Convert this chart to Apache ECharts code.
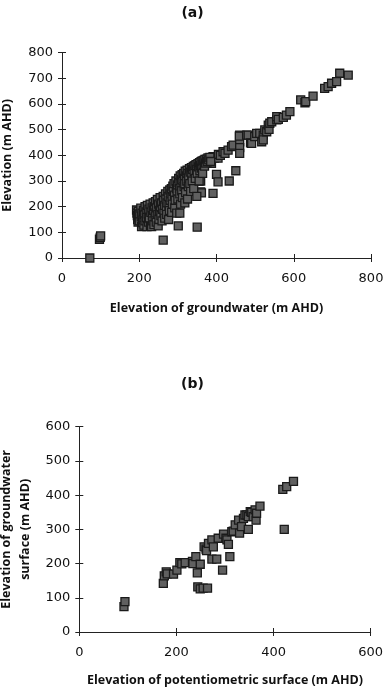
<!DOCTYPE html>
<html><head><meta charset="utf-8">
<script src="https://cdn.jsdelivr.net/npm/echarts@6/dist/echarts.min.js"></script>
<style>html,body{margin:0;padding:0;background:#fff}#c{width:385px;height:687px}</style>
</head><body><div id="c"></div>
<script>
// Panel (a): elevation vs elevation of groundwater (m AHD)
const groundwaterA = [
 72,97,99,100,262,301,350,391,359,361,359,400,404,433,450,
 378,387,391,395,404,405,410,417,422,430,439,443,460,460,460,460,459,478,482,488,491,499,504,512,517,521,521,525,530,534,536,538,543,556,556,560,573,581,590,618,629,631,650,680,689,698,711,719,741,
 193,194,195,196,197,198,199,200,200,
 204,205,206,207,208,210,211,212,213,215,215,
 218,219,220,221,223,224,225,226,228,229,230,
 232,233,234,235,236,237,238,240,241,242,243,244,245,
 247,248,249,250,251,252,254,255,256,258,259,260,
 262,263,264,265,266,268,269,270,271,272,274,275,276,277,278,279,280,
 282,283,284,285,286,287,288,290,291,292,293,295,296,297,298,299,300,
 302,303,304,305,306,307,308,309,310,311,312,313,315,316,317,318,319,320,305,318,
 322,323,324,325,326,327,328,330,331,332,333,335,336,337,338,340,341,342,344,345,
 347,348,349,350,352,353,355,356,357,358,360,361,363,364,365,367,369,370,372,374,376,378,380,383,385
];
const elevationA = [
 0,73,80,86,70,125,120,252,258,254,300,326,297,300,340,
 385,369,395,389,389,404,400,414,408,420,434,440,479,453,430,408,475,479,479,449,447,473,486,486,453,479,460,499,492,518,501,525,531,538,551,540,548,557,570,616,605,609,631,661,668,681,687,720,713,
 187,175,165,150,140,182,158,145,172,
 194,160,122,175,138,150,185,128,168,200,145,
 180,158,122,205,172,140,190,155,210,125,178,
 122,195,165,145,215,185,130,200,160,220,176,140,195,
 228,170,125,210,150,185,235,200,165,215,145,190,
 240,225,175,205,155,250,230,195,170,215,260,240,150,205,185,265,225,
 250,270,178,235,210,280,260,290,245,195,225,300,270,175,255,285,230,
 310,295,270,250,320,210,285,305,262,325,235,300,330,278,310,290,338,255,175,215,
 320,300,342,230,330,278,312,348,290,335,260,352,322,300,345,357,270,338,360,310,
 364,345,240,330,368,355,300,372,340,360,375,350,378,330,365,380,358,384,370,385,375,390,382,392,376
];
// Panel (b): groundwater surface vs potentiometric surface (m AHD)
const potentiometricB = [92,94,173,175,179,181,194,201,207,211,218,233,234,240,243,249,244,249,255,264,257,261,262,266,273,276,273,283,286,295,297,302,304,307,310,314,317,321,328,330,334,338,341,345,348,348,352,355,358,362,364,365,372,419,427,441,422];
const groundwaterB = [74,89,142,164,176,170,169,181,203,199,203,206,200,220,173,198,132,126,128,128,249,242,238,259,269,249,213,213,274,181,286,274,269,256,220,293,295,313,327,289,308,332,342,342,337,300,352,350,337,357,327,347,368,417,425,440,300];
const ticksA = [0,100,200,300,400,500,600,700,800];
const ticksB = [0,100,200,300,400,500,600];
const titleA = '(a)', titleB = '(b)';
const xNameA = 'Elevation of groundwater (m AHD)', yNameA = 'Elevation (m AHD)';
const xNameB = 'Elevation of potentiometric surface (m AHD)', yNameB = 'Elevation of groundwater\nsurface (m AHD)';

const lbl = {color:'#111', fontFamily:'DejaVu Sans', fontSize:13};
const nameStyle = {color:'#111', fontFamily:'Open Sans', fontSize:12.5, fontWeight:'bold', lineHeight:19};
const line = {show:true, onZero:false, lineStyle:{color:'#222', width:1}};
function mainAxis(max, interval, name, gap, grid, labelMargin){
  return {type:'value', gridIndex:grid, min:0, max:max, interval:interval,
    name:name, nameLocation:'middle', nameGap:gap, nameTextStyle:nameStyle,
    axisLine:line, axisTick:{show:true, length:4, lineStyle:{color:'#222'}},
    axisLabel:Object.assign({margin:labelMargin}, lbl), splitLine:{show:false}};
}
function innerAxis(max, interval, grid){
  return {type:'value', gridIndex:grid, min:0, max:max, interval:interval,
    axisLine:{show:false}, axisTick:{show:true, inside:true, length:4, lineStyle:{color:'#222'}},
    axisLabel:{show:false}, splitLine:{show:false}};
}
const sym = {symbol:'rect', symbolSize:8, itemStyle:{color:'#606060', borderColor:'#1a1a1a', borderWidth:1.3, opacity:1}};
const titleStyle = {fontFamily:'DejaVu Sans', fontSize:14, fontWeight:'bold', color:'#111'};
const g = (l, r, t) => ({left:l, right:r, top:t, height:205.3, containLabel:false, outerBoundsMode:'none'});
const chart = echarts.init(document.getElementById('c'));
chart.setOption({
  animation:false,
  title:[
    {text:titleA, left:'center', top:1, textStyle:titleStyle},
    {text:titleB, left:'center', top:372, textStyle:titleStyle}
  ],
  grid:[ g(62,14,52.7), g(79.3,14.3,426.7), g(62,14,52.7), g(79.3,14.3,426.7) ],
  xAxis:[
    mainAxis(800, 200, xNameA, 41, 0, 14),
    mainAxis(600, 200, xNameB, 39, 1, 14),
    innerAxis(800, 200, 2),
    innerAxis(600, 200, 3)
  ],
  yAxis:[
    mainAxis(800, 100, yNameA, 40, 0, 9),
    mainAxis(600, 100, yNameB, 42, 1, 9),
    innerAxis(800, 100, 2),
    innerAxis(600, 100, 3)
  ],
  series:[
    Object.assign({type:'scatter', xAxisIndex:0, yAxisIndex:0, data:groundwaterA.map((x,i)=>[x, elevationA[i]])}, sym),
    Object.assign({type:'scatter', xAxisIndex:1, yAxisIndex:1, data:potentiometricB.map((x,i)=>[x, groundwaterB[i]])}, sym)
  ]
});
</script></body></html>
